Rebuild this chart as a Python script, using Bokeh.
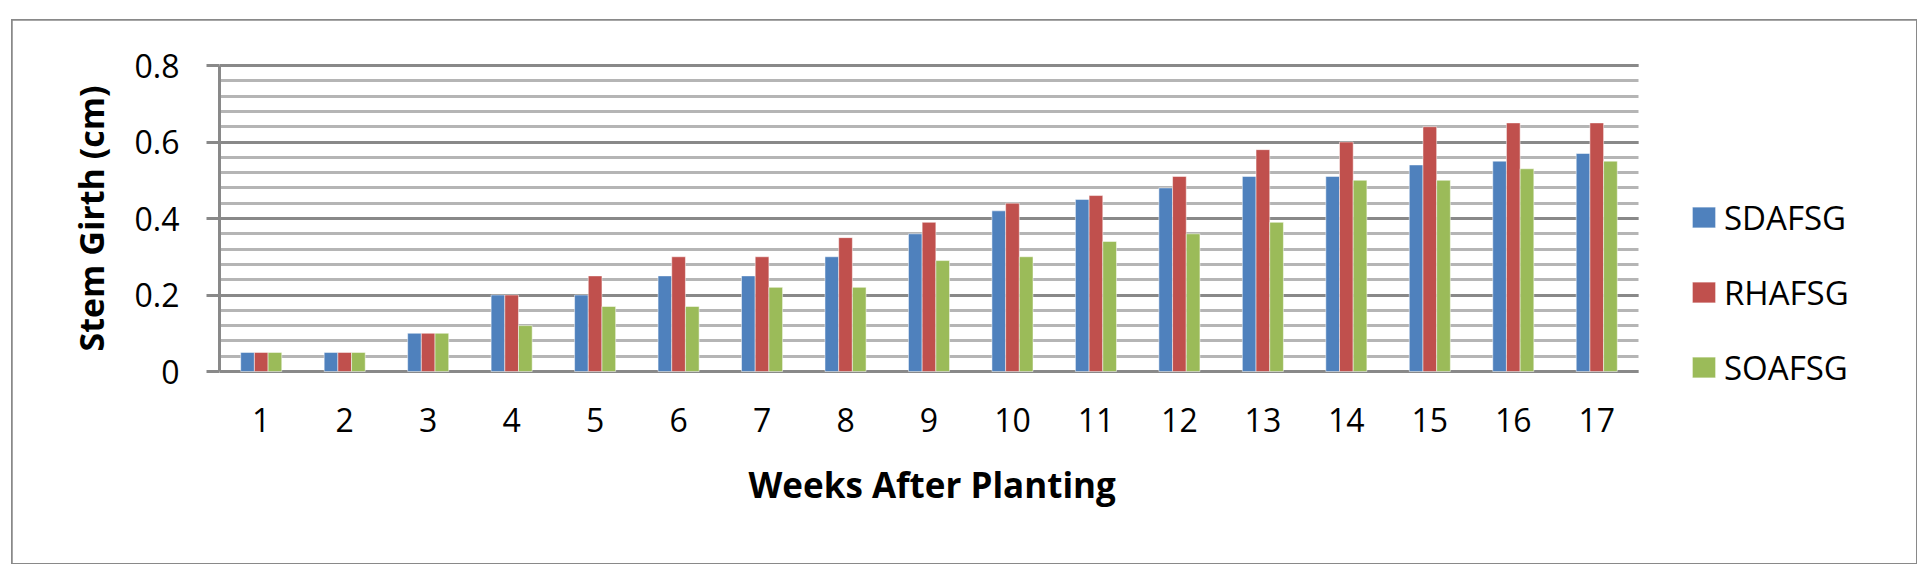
from bokeh.plotting import figure
from bokeh.models import (ColumnDataSource, Range1d, SingleIntervalTicker, FixedTicker,
                          CustomJSTickFormatter, Legend, LegendItem, Title)
from bokeh.transform import dodge
from bokeh.embed import file_html
from bokeh.resources import INLINE

weeks = list(range(1, 18))
sdafsg = [0.05, 0.05, 0.10, 0.20, 0.20, 0.25, 0.25, 0.30, 0.36, 0.42, 0.45, 0.48, 0.51, 0.51, 0.54, 0.55, 0.57]
rhafsg = [0.05, 0.05, 0.10, 0.20, 0.25, 0.30, 0.30, 0.35, 0.39, 0.44, 0.46, 0.51, 0.58, 0.60, 0.64, 0.65, 0.65]
soafsg = [0.05, 0.05, 0.10, 0.12, 0.17, 0.17, 0.22, 0.22, 0.29, 0.30, 0.34, 0.36, 0.39, 0.50, 0.50, 0.53, 0.55]
series_names = ["SDAFSG", "RHAFSG", "SOAFSG"]
series_colors = ["#4F81BD", "#C0504D", "#9BBB59"]
y_max = 0.8
x_title = "Weeks After Planting"
y_title = "Stem Girth (cm)"

centers = [w - 0.5 for w in weeks]
source = ColumnDataSource(dict(xc=centers, SDAFSG=sdafsg, RHAFSG=rhafsg, SOAFSG=soafsg))

FONT = "Open Sans"
MAJOR = "#898989"
MINOR = "#b5b5b5"

n = len(weeks)
x_end = n * 1685 / 1419          # frame also holds the legend area on the right
pad = 24 / 382.5                 # empty band above and below the plot area
y_top = y_max + pad
y_bot = -pad

p = figure(width=1904, height=543, x_range=Range1d(0, x_end),
           y_range=Range1d(y_bot, y_top), output_backend="svg", toolbar_location=None,
           min_border_left=207, min_border_right=12, min_border_top=21, min_border_bottom=168)
p.styles = {"margin-left": "12px", "margin-top": "20px",
            "outline": "3px solid #898989", "outline-offset": "-2px"}
p.outline_line_color = None
p.background_fill_color = "white"
p.border_fill_color = "white"

bw = 0.164
renderers = []
for i, (name, col) in enumerate(zip(series_names, series_colors)):
    r = p.vbar(x=dodge("xc", (i - 1) * bw), top=name, width=bw, bottom=0,
               source=source, fill_color=col, line_color="white", line_alpha=0.5, line_width=1)
    renderers.append(r)

# y axis
p.yaxis.ticker = SingleIntervalTicker(interval=0.2, num_minor_ticks=5)
p.yaxis.bounds = (0, y_max)
p.yaxis.major_label_overrides = {0: "0"}
p.yaxis.axis_line_color = MAJOR
p.yaxis.axis_line_width = 3
p.yaxis.major_tick_line_color = MAJOR
p.yaxis.major_tick_line_width = 3
p.yaxis.major_tick_out = 13
p.yaxis.major_tick_in = 0
p.yaxis.minor_tick_line_color = None
p.yaxis.major_label_standoff = 27
p.yaxis.major_label_text_font = FONT
p.yaxis.major_label_text_font_size = "32px"
p.yaxis.major_label_text_color = "black"
p.yaxis.axis_label = y_title
p.yaxis.axis_label_text_font = FONT
p.yaxis.axis_label_text_font_style = "bold"
p.yaxis.axis_label_text_font_size = "34px"
p.yaxis.axis_label_text_color = "black"
p.yaxis.axis_label_standoff = 18

# x axis (its line is the major grid line at 0)
p.xaxis.ticker = FixedTicker(ticks=centers)
p.xaxis.formatter = CustomJSTickFormatter(code="return (tick + 0.5).toFixed(0)")
p.xaxis.axis_line_color = None
p.xaxis.major_tick_line_color = None
p.xaxis.minor_tick_line_color = None
p.xaxis.major_tick_out = 0
p.xaxis.major_tick_in = 0
p.xaxis.major_label_standoff = 12
p.xaxis.major_label_text_font = FONT
p.xaxis.major_label_text_font_size = "32px"
p.xaxis.major_label_text_color = "black"

p.add_layout(Title(text=x_title, align="left", offset=529, vertical_align="top", standoff=52,
                   text_font=FONT, text_font_style="bold", text_font_size="35px",
                   text_color="black"), "below")

p.xgrid.grid_line_color = None
p.ygrid.bounds = (0, y_max)
p.ygrid.cross_bounds = (0, n)
p.ygrid.grid_line_color = MAJOR
p.ygrid.grid_line_width = 3
p.ygrid.minor_grid_line_color = MINOR
p.ygrid.minor_grid_line_width = 3

legend = Legend(items=[LegendItem(label=s, renderers=[r]) for s, r in zip(series_names, renderers)],
                location=(1470, 5), orientation="vertical",
                glyph_width=29, glyph_height=26, label_height=46, spacing=29,
                label_standoff=6, padding=0, margin=0,
                border_line_color=None, background_fill_alpha=0,
                label_text_font=FONT, label_text_font_size="33px", label_text_color="black")
p.add_layout(legend)

open("out.html", "w").write(file_html(p, INLINE))
